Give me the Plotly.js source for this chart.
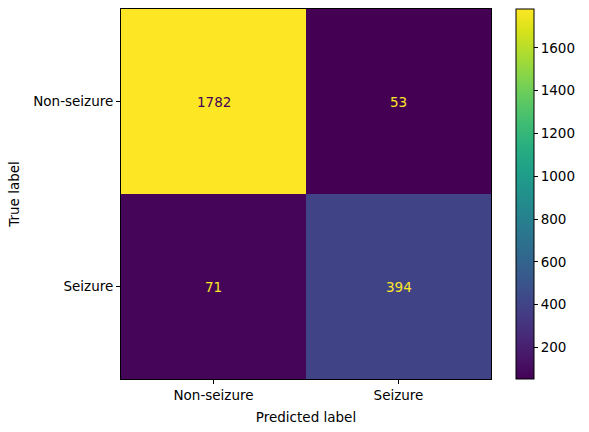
<!DOCTYPE html>
<html><head><meta charset="utf-8">
<script src="https://cdn.plot.ly/plotly-3.0.1.min.js"></script>
<style>html,body{margin:0;padding:0;background:#fff}#chart{width:589px;height:432px}</style>
</head><body><div id="chart"></div>
<script>
const predictedLabels = ["Non-seizure", "Seizure"];
const trueLabels = ["Non-seizure", "Seizure"];
const counts = [[1782, 53], [71, 394]];
const colorbarTicks = [200, 400, 600, 800, 1000, 1200, 1400, 1600];

const zAll = counts.flat();
const zmin = Math.min(...zAll), zmax = Math.max(...zAll);
const thresh = (zmin + zmax) / 2;
const annotations = [];
trueLabels.forEach((t, i) => predictedLabels.forEach((p, j) => {
  const v = counts[i][j];
  annotations.push({x: p, y: t, xref: 'x', yref: 'y', text: String(v), showarrow: false,
    font: {family: 'DejaVu Sans', size: 13.5, color: v > thresh ? '#440154' : '#fde725'}});
}));

const font = {family: 'DejaVu Sans', size: 13.5, color: '#000'};
const axisCommon = {showline: true, mirror: true, linecolor: '#000', linewidth: 1,
  ticks: 'outside', ticklen: 4, tickcolor: '#000', showgrid: false, zeroline: false,
  tickfont: font};

Plotly.newPlot('chart', [{
  type: 'heatmap', x: predictedLabels, y: trueLabels, z: counts,
  colorscale: 'Viridis', zmin: zmin, zmax: zmax, xgap: 0, ygap: 0,
  hoverinfo: 'skip',
  colorbar: {x: 1.0676, xanchor: 'left', xref: 'paper', y: 0.5, yanchor: 'middle', len: 1, lenmode: 'fraction',
    thickness: 18, thicknessmode: 'pixels', outlinewidth: 1, outlinecolor: '#000',
    tickvals: colorbarTicks, ticks: 'outside', ticklen: 4, tickcolor: '#000', tickfont: font, xpad: 0, ypad: 0}
}], {
  width: 589, height: 432,
  margin: {l: 121, r: 98, t: 9, b: 53},
  paper_bgcolor: '#fff', plot_bgcolor: '#fff',
  font: font,
  xaxis: Object.assign({}, axisCommon, {title: {text: 'Predicted label', font: font, standoff: 10}}),
  yaxis: Object.assign({}, axisCommon, {autorange: 'reversed', title: {text: 'True label', font: font, standoff: 10}}),
  annotations: annotations,
  showlegend: false
}, {displayModeBar: false, staticPlot: true});
</script></body></html>
